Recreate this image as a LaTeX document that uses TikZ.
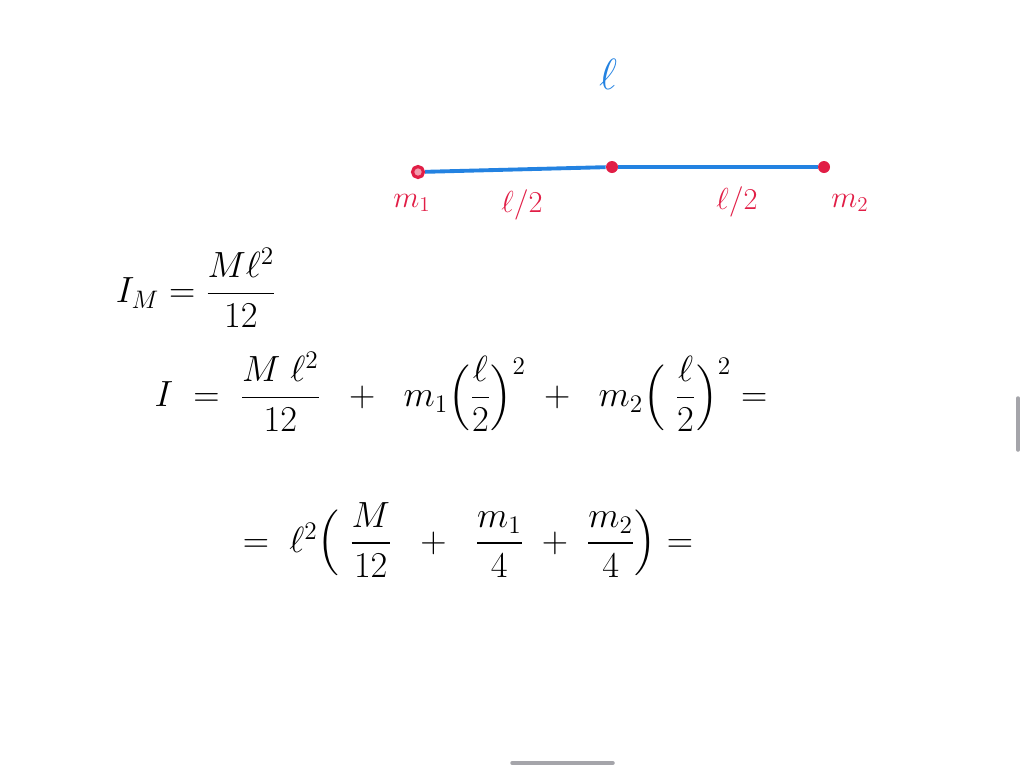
\documentclass[tikz,border=0pt]{standalone}
\usepackage{amsmath}
\definecolor{penblue}{RGB}{35,130,225}
\definecolor{penred}{RGB}{225,30,70}
\definecolor{bargray}{RGB}{165,165,170}
\begin{document}
\begin{tikzpicture}
[x=0.02cm,y=-0.02cm,
  dotdecorate/.style={shape=circle,inner sep=0pt,minimum size=0.24cm,fill=penred},%
  ringdecorate/.style={shape=circle,inner sep=0pt,minimum size=0.22cm,draw=penred,line width=1.8pt,fill=penred!45},%
  linedecorate/.style={-,line width=2.2pt,draw=penblue},%
  redlabel/.style={text=penred,font=\LARGE},%
  eqdecorate/.style={font=\huge}]
\useasboundingbox (0,0) rectangle (1024,768);
% length of the rod
\node (len) at (608,74) [text=penblue,font=\Huge] {$\ell$};
% masses and midpoint
\node (m1) at (418,172) [ringdecorate] {};
\node (mid) at (612,167) [dotdecorate] {};
\node (m2) at (824,167) [dotdecorate] {};
\node (m1lab) at (412,203) [redlabel] {$m_1$};
\node (half1) at (522,205) [redlabel] {$\ell/2$};
\node (half2) at (737,202) [redlabel] {$\ell/2$};
\node (m2lab) at (850,203) [redlabel] {$m_2$};
% the rod
\path
(m1) edge[linedecorate] (mid)
(mid) edge[linedecorate] (m2);
% equations
\node (eqa) at (196,288) [eqdecorate] {$I_M=\dfrac{M\ell^2}{12}$};
\node (eqb) at (461,392) [eqdecorate]
  {$I\;=\;\dfrac{M\;\ell^2}{\;12\;}\;\;+\;\;m_1\Bigl(\dfrac{\ell}{2}\Bigr)^{2}\;+\;\;m_2\Bigl(\;\dfrac{\ell}{2}\Bigr)^{2}=$};
\node (eqc) at (468,540) [eqdecorate]
  {$=\;\ell^2\Bigl(\;\dfrac{M}{12}\;\;+\;\;\dfrac{m_1}{4}\;+\;\dfrac{m_2}{4}\Bigr)=$};
% screen bars
\draw[bargray,line width=2pt,line cap=round] (1018,398) -- (1018,450);
\draw[bargray,line width=2pt,line cap=round] (512,763) -- (613,763);
\end{tikzpicture}
\end{document}
